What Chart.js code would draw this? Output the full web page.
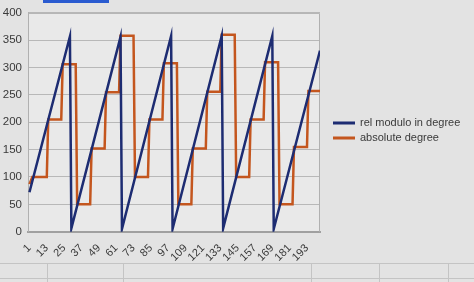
<!DOCTYPE html>
<html>
<head>
<meta charset="utf-8">
<script src="https://cdn.jsdelivr.net/npm/chart.js@4"></script>
<style>
  html, body { margin: 0; padding: 0; background: #e3e3e3; }
  #wrap { width: 474px; height: 282px; }
</style>
</head>
<body>
<div id="wrap"><canvas id="chart" width="474" height="282"></canvas></div>
<script>
// x tick labels (row numbers shown on the axis)
const xTicks = [1, 13, 25, 37, 49, 61, 73, 85, 97, 109, 121, 133, 145, 157, 169, 181, 193];

// rel modulo in degree: corners of the sawtooth (row, value)
const relRows = [1, 29, 30, 64, 65, 99, 100, 134, 135, 169, 170, 202];
const relDeg = [72, 357, 6, 356, 5, 358, 5, 358, 6, 358, 5, 331];

// absolute degree: corners of the steps (row, value)
const absRows = [1, 3, 13, 14, 23, 24, 33, 34, 43, 44, 53, 54, 63, 64, 73, 74, 83, 84, 93, 94,
    103, 104, 113, 114, 123, 124, 133, 134, 143, 144, 153, 154, 163, 164, 173, 174, 183, 184, 193, 194, 202];
const absDeg = [87, 100, 100, 205, 205, 306, 306, 50, 50, 152, 152, 255, 255, 358, 358, 100, 100, 205, 205, 308,
    308, 50, 50, 152, 152, 256, 256, 360, 360, 100, 100, 205, 205, 310, 310, 50, 50, 155, 155, 257, 257];

const blue = '#1d2c72';
const orange = '#c4561e';
const textColor = '#3a3a3a';
const font = 'Liberation Sans';

const toPoints = (xs, ys) => xs.map((x, i) => ({ x: x, y: ys[i] }));

const backdrop = {
    id: 'backdrop',
    beforeDraw(chart) {
        const { ctx, chartArea: a, width, height } = chart;
        ctx.save();
        ctx.fillStyle = '#e3e3e3';
        ctx.fillRect(0, 0, width, height);
        ctx.fillStyle = '#e9e9e9';
        ctx.fillRect(a.left, a.top, a.right - a.left, a.bottom - a.top);
        // spreadsheet cells behind the chart
        ctx.strokeStyle = '#c4c4c4';
        ctx.lineWidth = 1;
        ctx.beginPath();
        ctx.moveTo(0, 263.5); ctx.lineTo(width, 263.5);
        ctx.moveTo(0, 278.5); ctx.lineTo(width, 278.5);
        [47.5, 123.5, 311.5, 379.5, 448.5].forEach(x => { ctx.moveTo(x, 263); ctx.lineTo(x, height); });
        ctx.stroke();
        ctx.fillStyle = '#2a5bd0';
        ctx.fillRect(43, 0, 66, 3);
        ctx.restore();
    },
    beforeDatasetsDraw(chart) {
        const { ctx, chartArea: a } = chart;
        ctx.save();
        ctx.strokeStyle = '#b0b0b0';
        ctx.lineWidth = 1;
        ctx.beginPath();
        ctx.moveTo(a.left, a.top + 0.5);
        ctx.lineTo(a.right - 0.5, a.top + 0.5);
        ctx.lineTo(a.right - 0.5, a.bottom);
        ctx.stroke();
        ctx.restore();
    },
    // legend on the right, drawn by hand so the labels are not cut
    afterDraw(chart) {
        const { ctx, chartArea: a } = chart;
        ctx.save();
        ctx.font = '11px "' + font + '"';
        ctx.textBaseline = 'middle';
        chart.data.datasets.forEach((ds, i) => {
            const y = 123 + i * 15;
            ctx.fillStyle = ds.borderColor;
            ctx.fillRect(a.right + 13, y - 1.5, 22, 3);
            ctx.fillStyle = textColor;
            ctx.fillText(ds.label, a.right + 40, y);
        });
        ctx.restore();
    }
};

new Chart(document.getElementById('chart'), {
    type: 'line',
    data: {
        datasets: [
            {
                label: 'rel modulo in degree',
                data: toPoints(relRows, relDeg),
                borderColor: blue,
                backgroundColor: blue,
                borderWidth: 2.5,
                pointRadius: 0,
                tension: 0,
            },
            {
                label: 'absolute degree',
                data: toPoints(absRows, absDeg),
                borderColor: orange,
                backgroundColor: orange,
                borderWidth: 2.5,
                pointRadius: 0,
                tension: 0,
            },
        ],
    },
    options: {
        responsive: false,
        animation: false,
        layout: { padding: { left: 3, top: 12, right: 154, bottom: 16 } },
        plugins: {
            tooltip: { enabled: false },
            legend: { display: false },
        },
        scales: {
            x: {
                type: 'linear',
                min: 0,
                max: 202,
                afterBuildTicks(axis) {
                    axis.ticks = xTicks.map(v => ({ value: v }));
                },
                grid: { display: false },
                border: { display: true, color: '#a0a0a0', width: 2 },
                ticks: {
                    autoSkip: false,
                    minRotation: 45,
                    maxRotation: 45,
                    padding: 2,
                    color: textColor,
                    font: { family: font, size: 11 },
                },
            },
            y: {
                min: 0,
                max: 400,
                afterFit(axis) {
                    axis.width = 25;
                },
                ticks: {
                    stepSize: 50,
                    padding: 6,
                    color: textColor,
                    font: { family: font, size: 11.5 },
                },
                grid: { color: '#b8b8b8', drawTicks: false },
                border: { display: true, color: '#b0b0b0' },
            },
        },
    },
    plugins: [backdrop],
});
</script>
</body>
</html>
